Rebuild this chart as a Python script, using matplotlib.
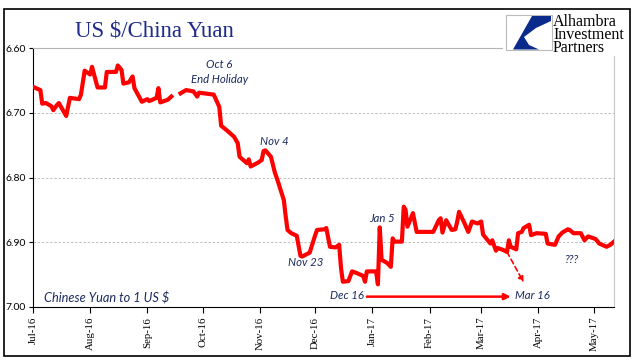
import matplotlib
matplotlib.use("Agg")
import matplotlib.pyplot as plt
import matplotlib.dates as mdates
from matplotlib.patches import Rectangle, Polygon
import pandas as pd

# CNY per 1 USD (NaN = break in the line)
dates = [
    "2016-07-01", "2016-07-05", "2016-07-06", "2016-07-08", "2016-07-11", "2016-07-12",
    "2016-07-14", "2016-07-15", "2016-07-19", "2016-07-21", "2016-07-26", "2016-07-27",
    "2016-07-29", "2016-08-01", "2016-08-02", "2016-08-05", "2016-08-09", "2016-08-10",
    "2016-08-15", "2016-08-16", "2016-08-18", "2016-08-19", "2016-08-22", "2016-08-24",
    "2016-08-25", "2016-08-29", "2016-09-01", "2016-09-02", "2016-09-06", "2016-09-07",
    "2016-09-08", "2016-09-12", "2016-09-14", "2016-09-16", "2016-09-19", "2016-09-22",
    "2016-09-26", "2016-09-28", "2016-09-29", "2016-10-07", "2016-10-10", "2016-10-11",
    "2016-10-14", "2016-10-18", "2016-10-20", "2016-10-21", "2016-10-25", "2016-10-26",
    "2016-10-27", "2016-10-31", "2016-11-02", "2016-11-03", "2016-11-04", "2016-11-07",
    "2016-11-09", "2016-11-11", "2016-11-14", "2016-11-15", "2016-11-16", "2016-11-18",
    "2016-11-21", "2016-11-23", "2016-11-24", "2016-11-28", "2016-12-01", "2016-12-02",
    "2016-12-06", "2016-12-07", "2016-12-09", "2016-12-12", "2016-12-14", "2016-12-15",
    "2016-12-16", "2016-12-19", "2016-12-21", "2016-12-23", "2016-12-27", "2016-12-28",
    "2016-12-29", "2017-01-03", "2017-01-04", "2017-01-05", "2017-01-06", "2017-01-09",
    "2017-01-11", "2017-01-12", "2017-01-13", "2017-01-17", "2017-01-18", "2017-01-19",
    "2017-01-20", "2017-01-23", "2017-01-25", "2017-02-03", "2017-02-06", "2017-02-07",
    "2017-02-08", "2017-02-10", "2017-02-13", "2017-02-15", "2017-02-16", "2017-02-17",
    "2017-02-20", "2017-02-22", "2017-02-24", "2017-02-27", "2017-03-01", "2017-03-02",
    "2017-03-06", "2017-03-07", "2017-03-09", "2017-03-10", "2017-03-13", "2017-03-15",
    "2017-03-16", "2017-03-17", "2017-03-20", "2017-03-21", "2017-03-23", "2017-03-24",
    "2017-03-27", "2017-03-28", "2017-03-31", "2017-04-05", "2017-04-06", "2017-04-10",
    "2017-04-12", "2017-04-14", "2017-04-17", "2017-04-18", "2017-04-20", "2017-04-24",
    "2017-04-26", "2017-04-28", "2017-05-02", "2017-05-04", "2017-05-08", "2017-05-10",
    "2017-05-12",
]
nan = float("nan")
values = [
    6.660, 6.665, 6.686, 6.685, 6.690, 6.696,
    6.688, 6.685, 6.705, 6.677, 6.679, 6.672,
    6.635, 6.641, 6.629, 6.661, 6.661, 6.637,
    6.637, 6.627, 6.634, 6.655, 6.653, 6.644,
    6.662, 6.683, 6.679, 6.682, 6.677, 6.662,
    6.684, 6.680, 6.675, nan, 6.670, 6.665,
    6.667, 6.675, 6.669, 6.672, 6.691, 6.720,
    6.727, 6.737, 6.747, 6.768, 6.778, 6.772,
    6.783, 6.777, 6.773, 6.759, 6.758, 6.768,
    6.791, 6.808, 6.835, 6.860, 6.881, 6.886,
    6.890, 6.921, 6.922, 6.916, 6.889, 6.881,
    6.880, 6.878, 6.907, 6.908, 6.904, 6.940,
    6.961, 6.960, 6.945, 6.947, 6.952, 6.961,
    6.945, 6.945, 6.965, 6.877, 6.927, 6.932,
    6.938, 6.894, 6.899, 6.899, 6.845, 6.850,
    6.876, 6.855, 6.884, 6.884, 6.866, 6.863,
    6.885, 6.866, 6.881, 6.880, 6.868, 6.853,
    6.871, 6.884, 6.868, 6.871, 6.868, 6.888,
    6.902, 6.897, 6.913, 6.909, 6.912, 6.915,
    6.897, 6.907, 6.911, 6.886, 6.884, 6.878,
    6.873, 6.889, 6.886, 6.887, 6.902, 6.904,
    6.891, 6.885, 6.880, 6.881, 6.886, 6.886,
    6.897, 6.891, 6.895, 6.902, 6.907, 6.904,
    6.899,
]

month_ticks = pd.date_range("2016-07-01", "2017-05-01", freq="MS")
y_ticks = [6.60, 6.70, 6.80, 6.90, 7.00]

# (text, date, value)
notes = [
    ("Oct 6", "2016-10-10", 6.626),
    ("End Holiday", "2016-10-10", 6.649),
    ("Nov 4", "2016-11-09", 6.745),
    ("Nov 23", "2016-11-26", 6.932),
    ("Jan 5", "2017-01-06", 6.864),
    ("Dec 16", "2016-12-18", 6.983),
    ("Mar 16", "2017-03-29", 6.983),
    ("???", "2017-04-19", 6.927),
]

navy = "#1b2a5e"
x = pd.to_datetime(dates)

fig = plt.figure(figsize=(6.41, 3.61), dpi=100)
ax = fig.add_axes([33 / 641, 1 - 307 / 361, 581 / 641, 259 / 361])

ax.plot(x, values, color="#ff0000", lw=3.0, solid_joinstyle="round", zorder=3)

ax.set_xlim(pd.Timestamp("2016-07-01"), pd.Timestamp("2017-05-12"))
ax.set_ylim(7.0, 6.6)
ax.set_yticks(y_ticks)
ax.set_yticklabels([f"{v:.2f}" for v in y_ticks], fontfamily="Lato", fontsize=7.5)
ax.set_xticks(month_ticks)
ax.xaxis.set_major_formatter(mdates.DateFormatter("%b-%y"))
for lab in ax.get_xticklabels():
    lab.set_rotation(90)
    lab.set_fontfamily("Liberation Serif")
    lab.set_fontsize(7.8)
ax.tick_params(axis="x", length=4, width=0.8, pad=3)
ax.tick_params(axis="y", length=3, width=0.8, pad=2)

ax.grid(axis="y", color="#b5b5b5", linestyle=(0, (3, 2)), lw=0.6)
ax.grid(axis="x", visible=False)
ax.spines["left"].set_color("black")
ax.spines["bottom"].set_color("black")
ax.spines["top"].set_color("#b5b5b5")
ax.spines["right"].set_color("#c8c8c8")

for txt, d, v in notes:
    ax.text(pd.Timestamp(d), v, txt, ha="center", va="center", fontsize=8.2,
            style="italic", fontfamily="Lato", color=navy)
ax.text(0.019, 0.036, "Chinese Yuan to 1 US $", transform=ax.transAxes,
        ha="left", va="center", fontsize=9.2, style="italic", fontfamily="Lato", color=navy)

ax.annotate("", xy=(pd.Timestamp("2017-03-17"), 6.984), xytext=(pd.Timestamp("2016-12-29"), 6.984),
            arrowprops=dict(arrowstyle="-|>", color="#ff0000", lw=1.8, mutation_scale=9,
                            shrinkA=0, shrinkB=0))
ax.annotate("", xy=(pd.Timestamp("2017-03-24"), 6.962), xytext=(pd.Timestamp("2017-03-15"), 6.915),
            arrowprops=dict(arrowstyle="-|>", color="#ff0000", lw=1.2, ls=(0, (3, 2)),
                            mutation_scale=8, shrinkA=0, shrinkB=0))

fig.text(154 / 641, 1 - 31 / 361, "US $/China Yuan", ha="center", va="center",
         fontsize=16.5, fontfamily="Liberation Serif", color="#1f2a8a")

# logo block
fig.patches.append(Rectangle((503 / 641, 1 - 56 / 361), 125 / 641, 43 / 361,
                             transform=fig.transFigure, facecolor="white", edgecolor="none", zorder=5))
fig.patches.append(Rectangle((506 / 641, 1 - 50 / 361), 46 / 641, 35 / 361,
                             transform=fig.transFigure, facecolor="white", edgecolor="#bbbbbb",
                             lw=0.8, zorder=6))
sail = [(532, 16), (551, 16), (551, 21), (536, 28), (524, 37), (529, 45), (539, 49.5), (513, 49.5)]
fig.patches.append(Polygon([(px / 641, 1 - py / 361) for px, py in sail], closed=True,
                           transform=fig.transFigure, facecolor="#0a2a8c", edgecolor="none", zorder=7))
fig.text(553 / 641, 1 - 14 / 361, "Alhambra\nInvestment\nPartners", ha="left", va="top",
         fontsize=11.5, fontfamily="Liberation Serif", color="black", linespacing=0.76, zorder=8)

fig.patches.append(Rectangle((4 / 641, 1 - 356 / 361), 626 / 641, 347 / 361,
                             transform=fig.transFigure, facecolor="none", edgecolor="black", lw=1.2))

fig.savefig("out.png", dpi=100)
